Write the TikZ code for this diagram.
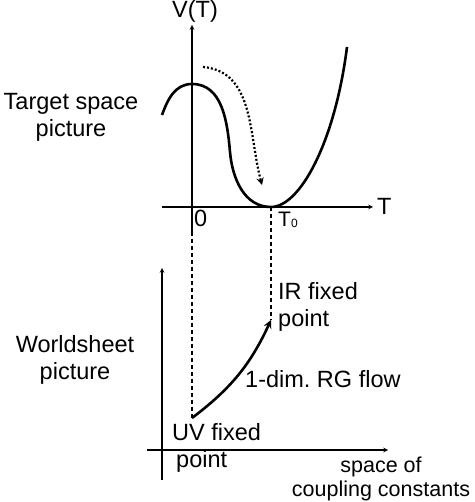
\documentclass[tikz,border=0pt]{standalone}
\usepackage{fontspec}
\setmainfont{Liberation Sans}
\frenchspacing
\begin{document}
\begin{tikzpicture}[x=1pt,y=1pt, line join=round, >=stealth,
		font=\fontsize{23.5}{27}\selectfont,
		axis/.style={->, line width=1.1pt},
		guide/.style={line width=1.4pt, dash pattern=on 4pt off 3pt},
		pot/.style={line width=2.6pt},
		lbl/.style={inner sep=0pt}]
		\useasboundingbox (0,0) rectangle (474,502);
		% target space picture
		\coordinate (Vlo) at (192,270);
		\coordinate (Vhi) at (192,477);
		\coordinate (Tlo) at (162,295);
		\coordinate (Thi) at (373,295);
		\draw[axis] (Vlo) -- (Vhi);
		\draw[axis] (Tlo) -- (Thi);
		\coordinate (L) at (162,387);
		\coordinate (P) at (192,418);
		\coordinate (I) at (230,350);
		\coordinate (M) at (271,295);
		\coordinate (E) at (347,455);
		\draw[pot] (L) to [out=70, in=180] (P) to [out=0, in=95] (I)
		to [out=-85, in=180] (M) .. controls (300,295) and (335,360) .. (E);
		\coordinate (Ds) at (203,435);
		\coordinate (De) at (262,317);
		\draw[->, line width=2.2pt, dash pattern=on 2pt off 2pt] (Ds) to [out=-5, in=105] (De);
		\node[lbl, anchor=base] (VT) at (195,484) {V(T)};
		\node[lbl, anchor=base west] (Tname) at (377,287) {T};
		\node[lbl, anchor=base west] (zero) at (194,275) {0};
		\node[lbl, anchor=base west, font=\fontsize{21}{25}\selectfont] (T0) at (278,275)
		{T\raisebox{-1pt}{\fontsize{12}{12}\selectfont 0}};
		\node[lbl, align=center, anchor=north] (tsp) at (71,409) {Target space\\picture};
		% worldsheet picture
		\coordinate (UV) at (192,84);
		\coordinate (IR) at (271,182);
		\draw[guide] (Vlo) -- (UV);
		\draw[guide] (M) -- (IR);
		\draw[->, line width=2.6pt] (UV) to [bend right=14] (IR);
		\coordinate (Glo) at (162,22);
		\coordinate (Ghi) at (162,234);
		\coordinate (Slo) at (147,52);
		\coordinate (Shi) at (388,52);
		\draw[axis] (Glo) -- (Ghi);
		\draw[axis] (Slo) -- (Shi);
		\node[lbl, align=left, anchor=north west] (uvl) at (172,79) {UV fixed\\\hspace*{4pt}point};
		\node[lbl, align=left, anchor=north west] (irl) at (278,220) {IR fixed\\point};
		\node[lbl, anchor=north west] (rg) at (245,132) {1-dim. RG flow};
		\node[lbl, align=center, anchor=north] (ws) at (75,167) {Worldsheet\\picture};
		\node[lbl, align=center, anchor=north, font=\fontsize{21.5}{24}\selectfont] (cc) at (381,45)
		{space of\\coupling constants};
	\end{tikzpicture}
\end{document}
